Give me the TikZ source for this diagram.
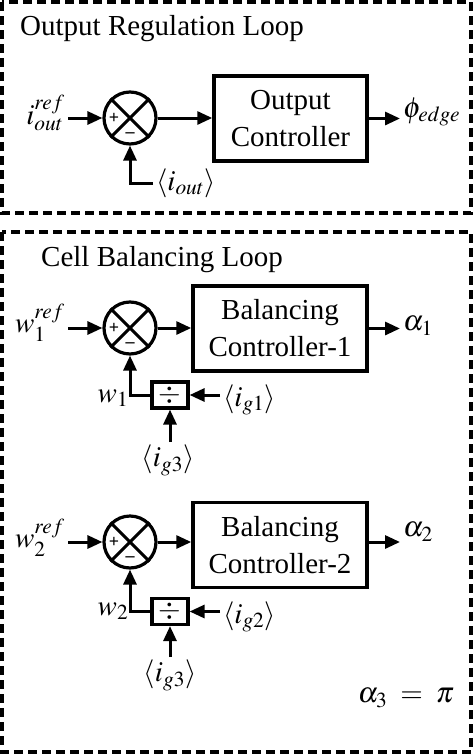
\documentclass[tikz,border=0pt]{standalone}
\usepackage{mathptmx}
\usepackage[no-math]{fontspec}
\setmainfont{Liberation Serif}
\usetikzlibrary{arrows.meta,positioning,calc}

% X und Vorzeichen im Summierer
\newcommand\sumsigns[1]{%
  \draw[line width=3pt] (#1.north east) -- (#1.south west)
                        (#1.north west) -- (#1.south east);
  \node[signs] (#1p) at ($(#1.center)+(-16,0)$) {+};
  \node[signs] (#1m) at ($(#1.center)+(0,-17)$) {--};}

\begin{document}
\begin{tikzpicture}[x=1pt,y=1pt,
    font=\fontsize{29}{31}\selectfont,
    frame/.style={draw,line width=3.2pt,dash pattern=on 9pt off 5pt},
    sumnode/.style={circle,draw,line width=3.2pt,minimum size=52pt,inner sep=0pt},
    ctrlbox/.style={draw,line width=3.5pt,align=center,inner sep=0pt,
                    font=\fontsize{29}{37}\selectfont,minimum height=85pt},
    divbox/.style={draw,line width=3.2pt,minimum width=36pt,minimum height=26pt,
                   inner sep=0pt},
    signs/.style={font=\fontsize{18}{18}\selectfont\bfseries,inner sep=0pt},
    sig/.style={-{Triangle[length=15pt,width=13pt]},line width=3pt},
    lbl/.style={inner sep=3pt}]

    \useasboundingbox (0,0) rectangle (474,-755);

    % ════════ Output Regulation Loop ════════
    \draw[frame] (2,-2) rectangle (471,-213);
    \node[anchor=base west,inner sep=0pt] (ttl1) at (20,-35){Output Regulation Loop};

    \node[sumnode] (sum1) at (130,-118){};
    \sumsigns{sum1}
    \node[ctrlbox,minimum width=153pt] (ctrl1) at (290.5,-118.5){Output\\Controller};
    \node[lbl,anchor=east] (ref1) at (68,-113){$i_{out}^{ref}$};
    \node[lbl,anchor=west] (out1) at (400,-112){$\phi_{edge}$};
    \node[lbl,anchor=west] (fb1) at (153,-183){$\langle i_{out}\rangle$};

    \draw[sig] (ref1.east |- sum1.west) -- (sum1.west);
    \draw[sig] (sum1.east) -- (sum1.east -| ctrl1.west);
    \draw[sig] (ctrl1.east) -- (ctrl1.east -| out1.west);
    \draw[sig] (fb1.west) -| (sum1.south);

    % ════════ Cell Balancing Loop ════════
    \draw[frame] (2,-232) rectangle (471,-752);
    \node[anchor=base west,inner sep=0pt] (ttl2) at (41,-266){Cell Balancing Loop};

    % regler 1
    \node[sumnode] (sum2) at (130,-328){};
    \sumsigns{sum2}
    \node[ctrlbox,minimum width=174pt] (ctrl2) at (280,-328.5){Balancing\\Controller-1};
    \node[lbl,anchor=east] (ref2) at (68,-323){$w_1^{ref}$};
    \node[lbl,anchor=west] (out2) at (400,-326){$\alpha_1$};
    \node[divbox] (div1) at (170,-395){$\div$};
    \node[lbl,anchor=west] (ig1) at (220,-400){$\langle i_{g1}\rangle$};
    \node[lbl,anchor=north] (ig3a) at (168,-442){$\langle i_{g3}\rangle$};
    \node[lbl] (w1) at (113,-398){$w_1$};

    \draw[sig] (ref2.east |- sum2.west) -- (sum2.west);
    \draw[sig] (sum2.east) -- (sum2.east -| ctrl2.west);
    \draw[sig] (ctrl2.east) -- (ctrl2.east -| out2.west);
    \draw[sig] (ig1.west |- div1.east) -- (div1.east);
    \draw[sig] (div1.south |- ig3a.north) -- (div1.south);
    \draw[sig] (div1.west) -| (sum2.south);

    % regler 2
    \node[sumnode] (sum3) at (130,-542){};
    \sumsigns{sum3}
    \node[ctrlbox,minimum width=174pt] (ctrl3) at (280,-545){Balancing\\Controller-2};
    \node[lbl,anchor=east] (ref3) at (68,-538){$w_2^{ref}$};
    \node[lbl,anchor=west] (out3) at (400,-532){$\alpha_2$};
    \node[divbox] (div2) at (170,-611.5){$\div$};
    \node[lbl,anchor=west] (ig2) at (220,-617){$\langle i_{g2}\rangle$};
    \node[lbl,anchor=north] (ig3b) at (170,-657){$\langle i_{g3}\rangle$};
    \node[lbl] (w2) at (113,-611){$w_2$};

    \draw[sig] (ref3.east |- sum3.west) -- (sum3.west);
    \draw[sig] (sum3.east) -- (sum3.east -| ctrl3.west);
    \draw[sig] (sum3 -| ctrl3.east) -- (sum3 -| out3.west);
    \draw[sig] (ig2.west |- div2.east) -- (div2.east);
    \draw[sig] (div2.south |- ig3b.north) -- (div2.south);
    \draw[sig] (div2.west) -| (sum3.south);

    \node[lbl] (alpha3) at (406,-698){$\alpha_3 \;=\; \pi$};

\end{tikzpicture}
\end{document}
